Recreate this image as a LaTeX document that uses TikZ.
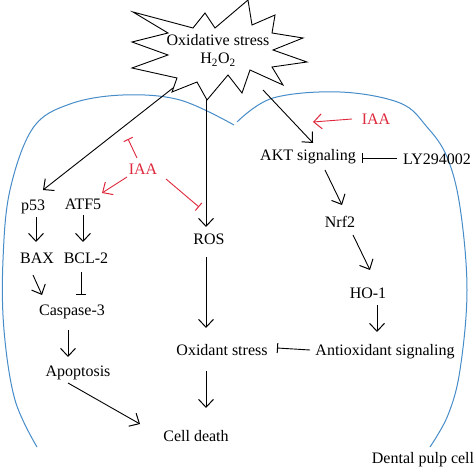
\documentclass[tikz,border=0pt]{standalone}
\usepackage{fontspec}
\setmainfont{Liberation Serif}
\usetikzlibrary{arrows.meta}
\definecolor{memblue}{RGB}{70,140,200}
\definecolor{inhred}{RGB}{222,40,60}
\tikzset{
  lbl/.style={font=\fontsize{16}{18}\selectfont, inner sep=0pt},
  rlbl/.style={lbl, text=inhred},
  act/.style={-{Straight Barb[length=8pt,width=15pt,line width=1pt]}, line width=0.9pt},
  inh/.style={-{Bar[width=10pt,line width=1pt]}, line width=0.9pt},
  ract/.style={act, draw=inhred},
  rinh/.style={inh, draw=inhred},
  mem/.style={draw=memblue, line width=1pt},
}
\begin{document}
\begin{tikzpicture}[x=1pt,y=-1pt]
\useasboundingbox (0,0) rectangle (474,470);
% membrane
\draw[mem] plot[smooth, tension=0.6] coordinates {(37,447) (15,400) (4,330) (3,260) (10,190) (33,128) (70,104) (123,95) (180,100) (234,125)};
\draw[mem] plot[smooth, tension=0.6] coordinates {(237,122) (273,98) (340,92) (400,103) (427,127) (447,157) (460,207) (467,290) (460,370) (448,415) (430,447)};
% burst
\draw[line width=0.9pt, fill=white] (248,0) -- (252,25) -- (275,15) -- (272,33) -- (303,38) -- (273,50) -- (307,62) -- (272,67) -- (283,85) -- (250,70) -- (242,93) -- (228,75) -- (207,100) -- (197,82) -- (172,92) -- (177,78) -- (132,68) -- (168,55) -- (132,42) -- (168,33) -- (133,12) -- (193,28) -- (205,13) -- (215,28) -- cycle;
\node[lbl] (ox) at (218,40) {Oxidative stress};
\node[lbl] (h2o2) at (218,60) {H\textsubscript{2}O\textsubscript{2}};
\coordinate (bL) at (173,88);
\coordinate (bM) at (206,99);
\coordinate (bR) at (263,90);
% nodes
\node[lbl] (p53) at (33,207) {p53};
\node[lbl] (atf5) at (83,204) {ATF5};
\node[rlbl] (iaa1) at (143,169) {IAA};
\node[lbl] (ros) at (209,239) {ROS};
\node[lbl] (bax) at (37,258) {BAX};
\node[lbl] (bcl2) at (86,258) {BCL-2};
\node[lbl] (casp) at (72,312) {Caspase-3};
\node[lbl] (apop) at (78,373) {Apoptosis};
\node[lbl] (oxs) at (222,350) {Oxidant stress};
\node[lbl] (death) at (196,436) {Cell death};
\node[rlbl] (iaa2) at (376,119) {IAA};
\node[lbl] (akt) at (308,157) {AKT signaling};
\node[lbl] (ly) at (437,159) {LY294002};
\node[lbl] (nrf2) at (340,222) {Nrf2};
\node[lbl] (ho1) at (368,293) {HO-1};
\node[lbl] (anti) at (385,352) {Antioxidant signaling};
\node[lbl] (dpc) at (423,460) {Dental pulp cell};
% black connectors
\draw[act] (bL) -- ([shift={(10,-17)}]p53.center);
\draw[act] (bM) -- ([shift={(0,-12)}]ros.center -| bM);
\draw[act] (bR) -- ([shift={(5,-14)}]akt.center);
\draw[act] ([shift={(3,10)}]p53.center) -- ([shift={(-1,-16)}]bax.center);
\draw[act] ([shift={(0,11)}]atf5.center) -- ([shift={(-3,-16)}]bcl2.center);
\draw[act] ([shift={(-4,17)}]bax.center) -- ([shift={(-30,-17)}]casp.center);
\draw[inh] ([shift={(-5,14)}]bcl2.center) -- ([shift={(9,-17)}]casp.center);
\draw[act] ([shift={(-4,18)}]casp.center) -- ([shift={(-10,-16)}]apop.center);
\draw[act] ([shift={(-10,10)}]apop.center) -- ([shift={(-56,-12)}]death.center);
\draw[act] ([shift={(0,18)}]ros.center -| bM) -- ([shift={(0,-22)}]oxs.center -| bM);
\draw[act] ([shift={(0,21)}]oxs.center -| bM) -- ([shift={(0,-28)}]death.center -| bM);
\draw[inh] ([shift={(-75,-2)}]anti.center) -- ([shift={(55,-2)}]oxs.center);
\draw[inh] ([shift={(-40,-1)}]ly.center) -- ([shift={(54,1)}]akt.center);
\draw[act] ([shift={(17,13)}]akt.center) -- ([shift={(2,-17)}]nrf2.center);
\draw[act] ([shift={(13,13)}]nrf2.center) -- ([shift={(2,-23)}]ho1.center);
\draw[act] ([shift={(9,12)}]ho1.center) -- ([shift={(-8,-20)}]anti.center);
% red connectors
\draw[ract] ([shift={(-16,8)}]iaa1.center) -- ([shift={(19,-11)}]atf5.center);
\draw[rinh] ([shift={(-6,-11)}]iaa1.center) -- ([shift={(-15,-30)}]iaa1.center);
\draw[rinh] ([shift={(23,10)}]iaa1.center) -- ([shift={(-10,-32)}]ros.center);
\draw[ract] ([shift={(-24,0)}]iaa2.center) -- ([shift={(-63,3)}]iaa2.center);
\end{tikzpicture}
\end{document}
